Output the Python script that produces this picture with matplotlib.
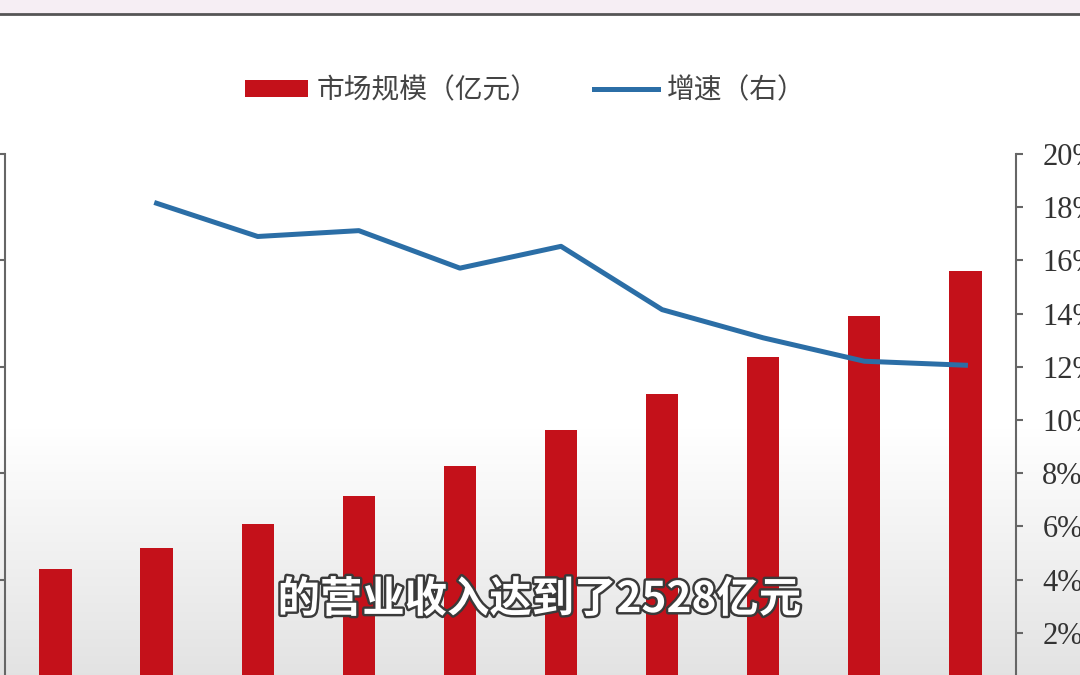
import numpy as np
import matplotlib.pyplot as plt
import matplotlib.patheffects as pe
from matplotlib.lines import Line2D
from matplotlib.patches import Rectangle

plt.rcParams['font.family'] = ['Noto Sans CJK SC', 'DejaVu Sans']

# data (x labels and left tick labels are cropped away)
years = list(range(10))
market = [550, 648, 761, 893, 1034, 1203, 1372, 1546, 1739, 1950]   # 亿元
growth = [None, 18.15, 16.9, 17.12, 15.71, 16.53, 14.15, 13.09, 12.21, 12.06]  # %
left_ticks = [0, 500, 1000, 1500, 2000, 2500]
right_ticks = list(range(0, 21, 2))

bar_color = '#c4111a'
line_color = '#2b6ea6'

fig = plt.figure(figsize=(10.8, 6.75), dpi=100)
fig.patch.set_facecolor('white')

# light grey shade at the bottom of the video frame
bg = fig.add_axes([0, 0, 1, 1], zorder=-5)
rows = np.ones(300)
rows[190:] = np.linspace(1.0, 0.89, 110)
shade = np.repeat(rows[:, None, None], 3, axis=2)
bg.imshow(shade, extent=[0, 1, 0, 1], aspect='auto', origin='upper')
bg.set_xlim(0, 1)
bg.set_ylim(0, 1)
bg.axis('off')
fig.add_artist(Rectangle((0, 0.981), 1, 0.02, transform=fig.transFigure,
                         color='#f6eef4', zorder=-1))
fig.add_artist(Line2D([0, 1], [0.980, 0.980], transform=fig.transFigure,
                      color='#555555', lw=2))

ax = fig.add_axes([0.0046, -0.0163, 0.9361, 0.7881])
ax.set_facecolor('none')
ax.bar(years, market, width=0.32, color=bar_color, label='市场规模（亿元）', zorder=2)
ax.set_xlim(-0.5, 9.5)
ax.set_ylim(0, 2500)
ax.set_yticks(left_ticks)
ax.set_yticklabels([])
ax.set_xticks([])
for s in ['top', 'right']:
    ax.spines[s].set_visible(False)
ax.spines['left'].set_color('#666666')
ax.spines['left'].set_linewidth(1.5)
ax.tick_params(axis='y', direction='out', length=5, width=1.5, color='#666666')

ax2 = ax.twinx()
yr = [y for y, g in zip(years, growth) if g is not None]
gr = [g for g in growth if g is not None]
ax2.plot(yr, gr, color=line_color, lw=3.6, label='增速（右）', zorder=3)
ax2.set_ylim(0, 20)
ax2.set_yticks(right_ticks)
ax2.set_yticklabels([f'{t}%' for t in right_ticks], family='Liberation Serif',
                    fontsize=22, color='#333333')
for s in ['top', 'left', 'bottom']:
    ax2.spines[s].set_visible(False)
ax2.spines['right'].set_color('#666666')
ax2.spines['right'].set_linewidth(1.5)
ax2.tick_params(axis='y', direction='out', length=5, width=1.5, color='#666666', pad=14)

h1, l1 = ax.get_legend_handles_labels()
h2, l2 = ax2.get_legend_handles_labels()
fig.legend(h1 + h2, l1 + l2, loc='center', bbox_to_anchor=(0.486, 0.866), ncol=2,
           frameon=False, fontsize=20, handlelength=2.3, handleheight=0.55,
           handletextpad=0.3, columnspacing=2.0, labelcolor='#444444')

fig.text(0.4995, 0.111, '的营业收入达到了2528亿元', ha='center', va='center',
         fontsize=30.5, fontweight='bold', color='white',
         path_effects=[pe.withStroke(linewidth=3.5, foreground='#3a3a3a')])

fig.savefig('out.png', dpi=100)
